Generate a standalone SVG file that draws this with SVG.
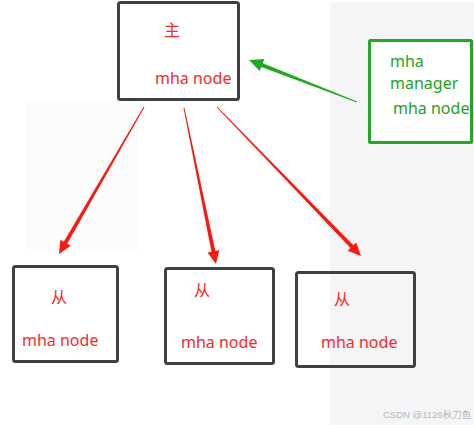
<svg xmlns="http://www.w3.org/2000/svg" width="474" height="425" viewBox="0 0 474 425">
<style>
.box{fill:none;stroke:#404040;stroke-width:3;}
.gbox{fill:none;stroke:#22a822;stroke-width:3;}
.rt{fill:#f52a2a;font-family:"Noto Sans","Noto Sans CJK SC",sans-serif;font-size:16px;}
.gt{fill:#23a323;font-family:"Noto Sans","Noto Sans CJK SC",sans-serif;font-size:16px;}
.ra{fill:#f81a12;}
.ga{fill:#22aa22;}
</style>
<rect x="0" y="0" width="474" height="425" fill="#ffffff"/>
<rect x="330" y="2" width="144" height="423" fill="#f4f5f7"/>
<rect x="26" y="100" width="112" height="150" fill="#fcfcfc"/>
<g id="master">
<rect class="box" x="118.5" y="2.5" width="120" height="97" rx="2"/>
<text class="rt" x="164" y="36">主</text>
<text class="rt" x="155" y="84">mha node</text>
</g>
<g id="manager">
<rect x="369.5" y="40.5" width="102" height="102" rx="1" fill="#ffffff"/>
<rect class="gbox" x="369.5" y="40.5" width="102" height="102" rx="1"/>
<text class="gt" x="390" y="67">mha</text>
<text class="gt" x="390" y="89">manager</text>
<text class="gt" x="393" y="114">mha node</text>
</g>
<g id="slave1">
<rect class="box" x="13.5" y="266.5" width="104" height="95" rx="2"/>
<text class="rt" x="51" y="303">从</text>
<text class="rt" x="22" y="346">mha node</text>
</g>
<g id="slave2">
<rect class="box" x="165.5" y="268.5" width="108" height="95" rx="2"/>
<text class="rt" x="194" y="296">从</text>
<text class="rt" x="181" y="348">mha node</text>
</g>
<g id="slave3">
<rect class="box" x="296.5" y="272.5" width="118" height="94" rx="2"/>
<text class="rt" x="334" y="305">从</text>
<text class="rt" x="321" y="348">mha node</text>
</g>
<g id="connectors">
<path class="ra" d="M144.43,107.25 L67.23,243.75 L70.69,245.75 L59,254 L60.31,239.75 L63.77,241.75 L143.57,106.75 Z"/>
<path class="ra" d="M184.49,107.9 L215.36,250.9 L219.28,250.09 L216,264 L207.52,252.51 L211.44,251.7 L183.51,108.1 Z"/>
<path class="ra" d="M217.36,106.65 L353.4,245.26 L356.27,242.48 L361,256 L347.65,250.82 L350.52,248.04 L216.64,107.35 Z"/>
<path class="ga" d="M357.18,101.53 L262.77,63.21 L264.4,59 L249,60 L259.7,71.1 L261.33,66.93 L356.82,102.47 Z"/>
</g>
<text x="383" y="418" fill="#b8b8b8" font-family="'Liberation Sans','Noto Sans CJK SC',sans-serif" font-size="9.5px">CSDN @1126秋刀鱼</text>
</svg>
